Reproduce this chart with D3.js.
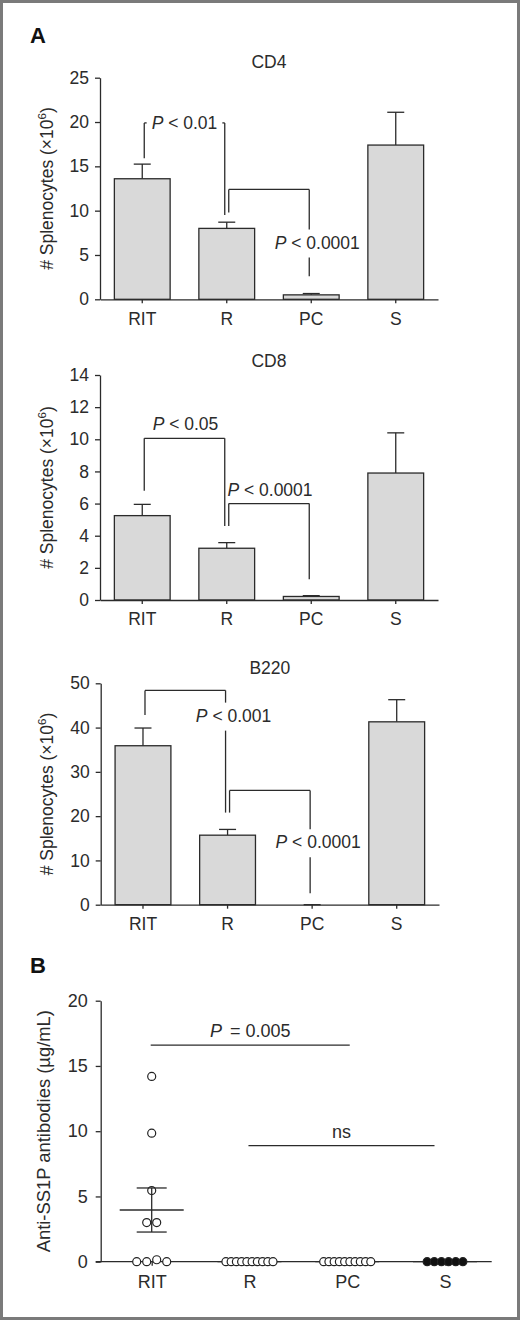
<!DOCTYPE html>
<html>
<head>
<meta charset="utf-8">
<script src="https://cdn.jsdelivr.net/npm/d3@7"></script>
<style>
  body { margin: 0; background: #fff; }
  svg { display: block; font-family: "Liberation Sans", Arial, Helvetica, sans-serif; }
</style>
</head>
<body>
<svg id="chart" width="520" height="1320"></svg>
<script>
const groups = ["RIT", "R", "PC", "S"];

// panel A: mean and SEM, cells x10^6
const cd4Mean = [13.6, 8.0, 0.5, 17.4];
const cd4Sem = [1.65, 0.7, 0.15, 3.7];
const cd4Ticks = [0, 5, 10, 15, 20, 25];

const cd8Mean = [5.25, 3.22, 0.22, 7.9];
const cd8Sem = [0.7, 0.35, 0.05, 2.5];
const cd8Ticks = [0, 2, 4, 6, 8, 10, 12, 14];

const b220Mean = [35.9, 15.7, 0, 41.3];
const b220Sem = [4.0, 1.3, 0, 5.0];
const b220Ticks = [0, 10, 20, 30, 40, 50];

// brackets: from, to, top value, left leg end, right leg end, label, label mode, label value
const cd4Brackets = [
  ["RIT", "R", 19.9, 15.9, 9.5, "< 0.01", "inline"],
  ["R", "PC", 12.4, 9.8, 2.6, "< 0.0001", "leg", 6.4]
];
const cd8Brackets = [
  ["RIT", "R", 10.06, 6.8, 4.6, "< 0.05", "above"],
  ["R", "PC", 6.0, 4.6, 1.29, "< 0.0001", "above"]
];
const b220Brackets = [
  ["RIT", "R", 48.4, 42.85, 20.8, "< 0.001", "leg", 42.7],
  ["R", "PC", 25.8, 20.8, 2.6, "< 0.0001", "leg", 14.1]
];

// panel B: anti-SS1P antibodies per mouse, ug/mL
const ritValues = [14.2, 9.85, 5.45, 3.0, 3.0, 0, 0, 0.15, 0];
const rValues = [0, 0, 0, 0, 0, 0, 0, 0, 0, 0];
const pcValues = [0, 0, 0, 0, 0, 0, 0, 0, 0, 0];
const sValues = [0, 0, 0, 0, 0, 0];
const antiTicks = [0, 5, 10, 15, 20];
const antiComparisons = [
  ["RIT", "PC", 16.6, "= 0.005", true],
  ["R", "S", 8.9, "ns", false]
];

const ink = "#2b2b2b";
const fontSize = 17.5;
const fontSizeB = 18;
const svg = d3.select("#chart");

svg.append("rect")
  .attr("x", 1.5).attr("y", 1.5)
  .attr("width", 517).attr("height", 1317)
  .attr("fill", "none")
  .attr("stroke", "#7a7a7a")
  .attr("stroke-width", 3);

function styleAxis(a, size) {
  a.attr("font-size", size || fontSize).attr("font-family", null);
  a.selectAll("path, line").attr("stroke", ink).attr("stroke-width", 1.3);
  a.selectAll("text").attr("fill", ink);
}

function pText(sel, rest) {
  sel.append("tspan").attr("font-style", "italic").text("P");
  sel.append("tspan").text(" " + rest);
}

function line(g, x1, y1, x2, y2) {
  g.append("line")
    .attr("x1", x1).attr("y1", y1).attr("x2", x2).attr("y2", y2)
    .attr("stroke", ink).attr("stroke-width", 1.3);
}

function yTitle(g, cx, cy, size, build) {
  const t = g.append("text")
    .attr("transform", `translate(${cx},${cy}) rotate(-90)`)
    .attr("text-anchor", "middle")
    .attr("dy", "0.35em")
    .attr("font-size", size)
    .attr("fill", ink);
  build(t);
}

function drawBracket(g, x, y, b) {
  const [from, to, topVal, legA, legB, label, mode, labelVal] = b;
  const half = x.bandwidth() / 2;
  const xa = x(from) + half + 2;
  const xb = x(to) + half - 2;
  const yt = y(topVal);
  const mid = (xa + xb) / 2;

  line(g, xa, y(legA), xa, yt);

  if (mode === "inline") {
    const t = g.append("text")
      .attr("x", mid).attr("y", yt + 6)
      .attr("text-anchor", "middle")
      .attr("font-size", fontSize).attr("fill", ink);
    pText(t, label);
    const w = t.node().getComputedTextLength();
    line(g, xa, yt, mid - w / 2 - 5, yt);
    line(g, mid + w / 2 + 5, yt, xb, yt);
    line(g, xb, yt, xb, y(legB));
  } else if (mode === "above") {
    line(g, xa, yt, xb, yt);
    line(g, xb, yt, xb, y(legB));
    const t = g.append("text")
      .attr("x", mid + 1).attr("y", yt - 8)
      .attr("text-anchor", "middle")
      .attr("font-size", fontSize).attr("fill", ink);
    pText(t, label);
  } else {
    line(g, xa, yt, xb, yt);
    const base = y(labelVal) + 6;
    line(g, xb, yt, xb, base - 19);
    line(g, xb, base + 9, xb, y(legB));
    const t = g.append("text")
      .attr("x", xb + 8).attr("y", base)
      .attr("text-anchor", "middle")
      .attr("font-size", fontSize).attr("fill", ink);
    pText(t, label);
  }
}

function drawBarPanel(p) {
  const g = svg.append("g");
  const x = d3.scaleBand().domain(groups)
    .range([p.left, p.right])
    .paddingInner(0.34).paddingOuter(0.17);
  const y = d3.scaleLinear().domain([0, d3.max(p.ticks)]).range([p.bottom, p.top]);
  const half = x.bandwidth() / 2;

  // error bars (upper only)
  groups.forEach((d, i) => {
    const cx = x(d) + half;
    const yHi = y(p.mean[i] + p.sem[i]);
    line(g, cx, y(p.mean[i]), cx, yHi);
    line(g, cx - 8.5, yHi, cx + 8.5, yHi);
  });

  g.selectAll("rect.bar")
    .data(groups)
    .join("rect")
    .attr("class", "bar")
    .attr("x", d => x(d))
    .attr("y", (d, i) => y(p.mean[i]))
    .attr("width", x.bandwidth())
    .attr("height", (d, i) => y(0) - y(p.mean[i]))
    .attr("fill", "#d9d9d9")
    .attr("stroke", ink)
    .attr("stroke-width", 1.3);

  g.append("g")
    .attr("transform", `translate(${p.left},0)`)
    .call(d3.axisLeft(y).tickValues(p.ticks).tickSize(5).tickPadding(6).tickSizeOuter(0))
    .call(styleAxis);

  g.append("g")
    .attr("transform", `translate(0,${p.bottom})`)
    .call(d3.axisBottom(x).tickSize(4).tickPadding(9).tickSizeOuter(0))
    .call(styleAxis);

  g.append("text")
    .attr("x", (p.left + p.right) / 2).attr("y", p.titleY)
    .attr("text-anchor", "middle")
    .attr("font-size", fontSize).attr("fill", ink)
    .text(p.title);

  yTitle(g, 46.5, (p.top + p.bottom) / 2, fontSize, t => {
    t.append("tspan").text("# Splenocytes (\u00d710");
    t.append("tspan").attr("dy", -7).attr("font-size", 11.5).text("6");
    t.append("tspan").attr("dy", 7).text(")");
  });

  p.brackets.forEach(b => drawBracket(g, x, y, b));
}

svg.append("text")
  .attr("x", 30).attr("y", 43)
  .attr("font-size", 22).attr("font-weight", "bold").attr("fill", "#111")
  .text("A");

drawBarPanel({ title: "CD4", mean: cd4Mean, sem: cd4Sem, ticks: cd4Ticks, brackets: cd4Brackets,
  left: 100, right: 438, top: 77.7, bottom: 299.3, titleY: 68 });
drawBarPanel({ title: "CD8", mean: cd8Mean, sem: cd8Sem, ticks: cd8Ticks, brackets: cd8Brackets,
  left: 100, right: 438, top: 375, bottom: 600, titleY: 367 });
drawBarPanel({ title: "B220", mean: b220Mean, sem: b220Sem, ticks: b220Ticks, brackets: b220Brackets,
  left: 100.7, right: 439, top: 683.3, bottom: 904.7, titleY: 674 });

// ---- panel B: dot plot
svg.append("text")
  .attr("x", 30).attr("y", 973)
  .attr("font-size", 22).attr("font-weight", "bold").attr("fill", "#111")
  .text("B");

const gb = svg.append("g");
const bLeft = 100.7, bRight = 491.7, bTop = 1000.7, bBottom = 1261.7;
const xB = d3.scalePoint().domain(groups).range([151.7, 445]);
const yB = d3.scaleLinear().domain([0, d3.max(antiTicks)]).range([bBottom, bTop]);
const seriesB = [ritValues, rValues, pcValues, sValues];

gb.append("g")
  .attr("transform", `translate(${bLeft},0)`)
  .call(d3.axisLeft(yB).tickValues(antiTicks).tickSize(5).tickPadding(8).tickSizeOuter(0))
  .call(a => styleAxis(a, fontSizeB));

gb.append("g")
  .attr("transform", `translate(0,${bBottom})`)
  .call(d3.axisBottom(xB).tickSize(4).tickPadding(10).tickSizeOuter(0))
  .call(a => a.select(".domain").attr("d", `M${bLeft - 5},0H${bRight}`))
  .call(a => styleAxis(a, fontSizeB));

yTitle(gb, 43.3, (bTop + bBottom) / 2, 18.4, t => t.text("Anti-SS1P antibodies (\u00b5g/mL)"));

// spread points that sit at the same height
function spread(values) {
  const out = values.map(() => 0);
  const used = values.map(() => false);
  values.forEach((v, i) => {
    if (used[i]) return;
    const idx = [];
    values.forEach((w, j) => {
      if (!used[j] && Math.abs(yB(w) - yB(v)) < 5) { idx.push(j); used[j] = true; }
    });
    const n = idx.length;
    const span = n <= 4 ? 10 * (n - 1) : 30 + (n - 4) * 2.85;
    idx.forEach((j, k) => { out[j] = n > 1 ? -span / 2 + k * span / (n - 1) : 0; });
  });
  return out;
}

const stats = seriesB.map(vals => {
  const m = d3.mean(vals);
  const sd = d3.deviation(vals) || 0;
  return { mean: m, sem: sd / Math.sqrt(vals.length) };
});

// mean lines behind the dots
groups.forEach((grp, i) => {
  const cx = xB(grp);
  line(gb, cx - 32, yB(stats[i].mean), cx + 32, yB(stats[i].mean));
});

groups.forEach((grp, i) => {
  const vals = seriesB[i];
  const offs = spread(vals);
  gb.append("g").selectAll("circle")
    .data(vals)
    .join("circle")
    .attr("cx", (d, j) => xB(grp) + offs[j])
    .attr("cy", d => yB(d))
    .attr("r", 4)
    .attr("fill", grp === "S" ? "#111" : "#fff")
    .attr("stroke", "#222")
    .attr("stroke-width", 1.2);
});

// SEM on top
groups.forEach((grp, i) => {
  const s = stats[i];
  if (s.sem === 0) return;
  const cx = xB(grp);
  const hi = yB(s.mean + s.sem), lo = yB(s.mean - s.sem);
  line(gb, cx, hi, cx, lo);
  line(gb, cx - 15, hi, cx + 15, hi);
  line(gb, cx - 15, lo, cx + 15, lo);
});

antiComparisons.forEach(([a, b, v, label, isP]) => {
  const x1 = xB(a) - 1;
  const x2 = a === "RIT" ? xB(b) + 2.5 : xB(b) - 10.5;
  const yy = yB(v);
  line(gb, x1, yy, x2, yy);
  const t = gb.append("text")
    .attr("x", (x1 + x2) / 2).attr("y", yy - 8)
    .attr("text-anchor", "middle")
    .attr("font-size", fontSizeB).attr("fill", ink);
  if (isP) {
    t.append("tspan").attr("font-style", "italic").text("P");
    t.append("tspan").attr("dx", 8).text(label);
  } else {
    t.text(label);
  }
});
</script>
</body>
</html>
